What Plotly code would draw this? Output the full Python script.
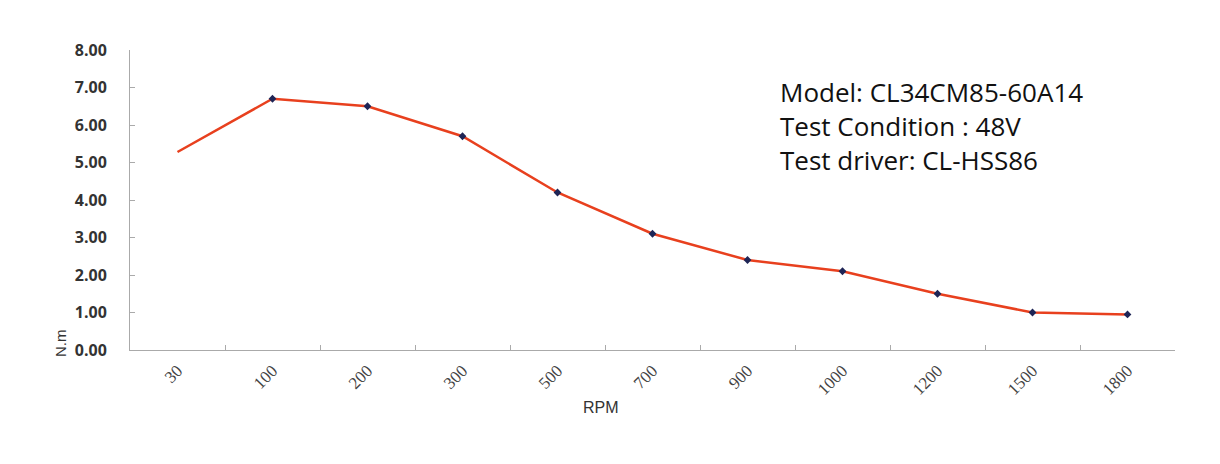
import plotly.graph_objects as go

rpm = ["30", "100", "200", "300", "500", "700", "900", "1000", "1200", "1500", "1800"]
torque = [5.28, 6.7, 6.5, 5.7, 4.2, 3.1, 2.4, 2.1, 1.5, 1.0, 0.95]
y_ticks = [0, 1, 2, 3, 4, 5, 6, 7, 8]
info_lines = ["Model: CL34CM85-60A14", "Test Condition : 48V", "Test driver: CL-HSS86"]

L, T, W, H = 122, 42, 1045, 300

fig = go.Figure()
fig.add_trace(go.Scatter(
    x=rpm, y=torque, mode="lines",
    line=dict(color="#e8401e", width=2.5),
    hoverinfo="skip", showlegend=False,
))
fig.add_trace(go.Scatter(
    x=rpm[1:], y=torque[1:], mode="markers",
    marker=dict(symbol="diamond", size=6, color="#1e2556"),
    showlegend=False,
))

fig.add_annotation(
    text="<br>".join(info_lines), xref="paper", yref="paper",
    x=(778 - 130) / W, y=(350 - 126) / H,
    xanchor="left", yanchor="middle", align="left", showarrow=False,
    font=dict(family="Open Sans", size=26, color="#111"),
)

fig.add_annotation(
    text="N.m", xref="paper", yref="paper", x=(60 - 130) / W, y=(350 - 343) / H,
    textangle=-90, showarrow=False, xanchor="center", yanchor="middle",
    font=dict(family="Liberation Sans", size=15, color="#333"),
)
fig.add_annotation(
    text="RPM", xref="paper", yref="paper", x=(601 - 130) / W, y=(350 - 407) / H,
    showarrow=False, xanchor="center", yanchor="middle",
    font=dict(family="Liberation Sans", size=16, color="#333"),
)

fig.update_layout(
    width=1220, height=464,
    margin=dict(l=L, r=1220 - L - W, t=T, b=464 - T - H),
    paper_bgcolor="white", plot_bgcolor="white",
    xaxis=dict(
        type="category", tickson="boundaries", ticks="inside", ticklen=5,
        tickcolor="#aaa", showline=True, linecolor="#aaa", linewidth=1,
        showgrid=False, zeroline=False, tickangle=-45,
        tickfont=dict(family="Liberation Serif", size=17, color="#444"),
        ticklabelstandoff=3,
        range=[-0.5, 10.5],
    ),
    yaxis=dict(
        range=[0, 8], tickvals=y_ticks,
        ticktext=[f"{v:.2f}" for v in y_ticks],
        ticks="inside", ticklen=5, tickcolor="#aaa",
        showline=True, linecolor="#aaa", linewidth=1,
        showgrid=False, zeroline=False, ticklabelstandoff=19,
        tickfont=dict(family="Open Sans", size=16, color="#333", weight="bold"),
    ),
)

fig.write_html("out.html")
